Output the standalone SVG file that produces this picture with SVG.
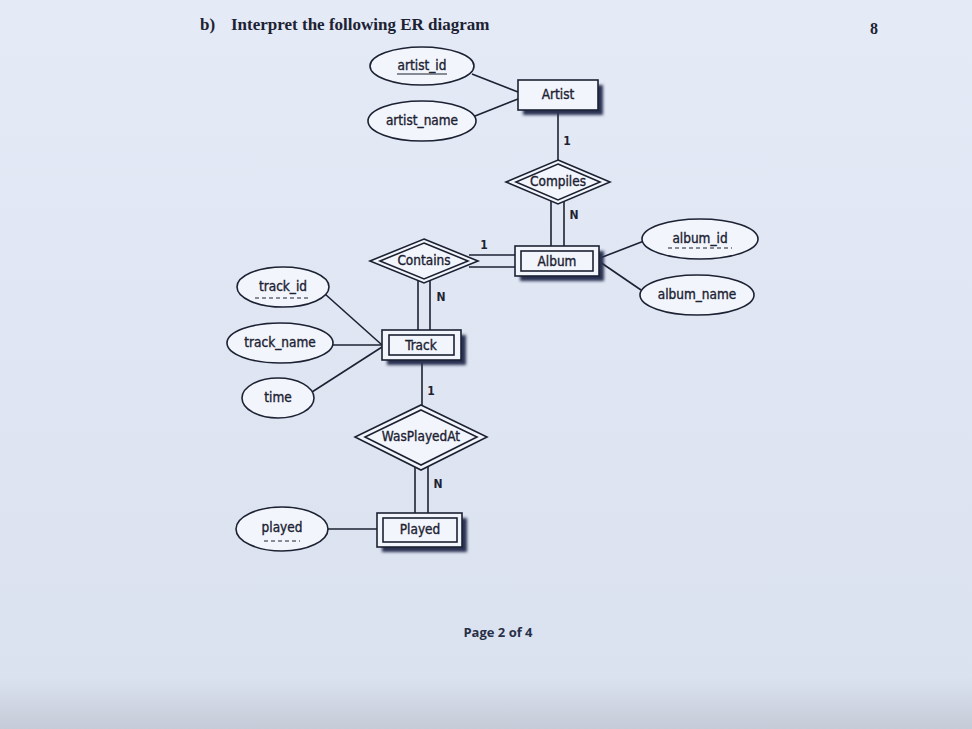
<svg xmlns="http://www.w3.org/2000/svg" width="972" height="729" viewBox="0 0 972 729">
<defs>
<linearGradient id="bg" x1="0" y1="0" x2="0" y2="1">
<stop offset="0" stop-color="#e4eaf6"/>
<stop offset="0.93" stop-color="#dbe2ef"/>
<stop offset="1" stop-color="#c5ccd8"/>
</linearGradient>
<filter id="blur" x="-20%" y="-20%" width="140%" height="140%"><feGaussianBlur stdDeviation="1.5"/></filter>
<style>
.s{fill:none;stroke:#1c2233;stroke-width:1.6}
.f{fill:#f2f5fb;stroke:#1c2233;stroke-width:1.6}
.sh{fill:#2a3352;filter:url(#blur)}
.t{font-family:"DejaVu Sans Condensed","Liberation Sans Narrow","Liberation Sans",sans-serif;font-size:13.5px;fill:#1c2233;stroke:#1c2233;stroke-width:0.35;text-anchor:middle}
.c{font-family:"DejaVu Sans Condensed","Liberation Sans",sans-serif;font-size:12px;font-weight:bold;fill:#1c2233;text-anchor:middle}
.d{stroke:#1c2233;stroke-width:1.2;stroke-dasharray:4 3}
</style>
</defs>
<rect width="972" height="729" fill="url(#bg)"/>
<text x="200" y="30" font-family="Liberation Serif,serif" font-size="17" font-weight="bold" fill="#1c2233">b)</text>
<text x="231" y="30" font-family="Liberation Serif,serif" font-size="17" font-weight="bold" fill="#1c2233">Interpret the following ER diagram</text>
<text x="870" y="34" font-family="Liberation Serif,serif" font-size="16" font-weight="bold" fill="#1c2233">8</text>

<g id="connectors">
<line class="s" x1="472" y1="74" x2="518" y2="92"/>
<line class="s" x1="475" y1="116" x2="518" y2="99"/>
<line class="s" x1="558" y1="110" x2="558" y2="160"/>
<line class="s" x1="551" y1="201" x2="551" y2="247"/>
<line class="s" x1="564" y1="198" x2="564" y2="247"/>
<line class="s" x1="469" y1="255" x2="515" y2="255"/>
<line class="s" x1="469" y1="267" x2="515" y2="267"/>
<line class="s" x1="418" y1="280" x2="418" y2="331"/>
<line class="s" x1="430" y1="280" x2="430" y2="331"/>
<line class="s" x1="600" y1="258" x2="644" y2="241"/>
<line class="s" x1="600" y1="262" x2="641" y2="290"/>
<line class="s" x1="325" y1="294" x2="382" y2="345"/>
<line class="s" x1="333" y1="345" x2="382" y2="345"/>
<line class="s" x1="312" y1="392" x2="382" y2="347"/>
<line class="s" x1="422" y1="360" x2="422" y2="405"/>
<line class="s" x1="415" y1="466" x2="415" y2="513"/>
<line class="s" x1="428" y1="466" x2="428" y2="513"/>
<line class="s" x1="328" y1="529" x2="377" y2="529"/>
<text class="c" x="567" y="145">1</text>
<text class="c" x="574" y="219">N</text>
<text class="c" x="484" y="249">1</text>
<text class="c" x="441" y="301">N</text>
<text class="c" x="431" y="395">1</text>
<text class="c" x="438" y="488">N</text>
</g>

<g id="artist_id">
<ellipse class="f" cx="422" cy="66" rx="52" ry="19"/>
<text class="t" x="422" y="70">artist_id</text>
<line x1="397" y1="74" x2="447" y2="74" stroke="#1c2233" stroke-width="1.2"/>
</g>
<g id="artist_name">
<ellipse class="f" cx="422" cy="121" rx="54" ry="20"/>
<text class="t" x="422" y="125">artist_name</text>
</g>
<g id="Artist">
<rect class="sh" x="523" y="85" width="80" height="30"/>
<rect class="f" x="518" y="80" width="80" height="30"/>
<text class="t" x="558" y="99">Artist</text>
</g>
<g id="Compiles">
<polygon class="f" points="558,160 610,182 558,204 506,182"/>
<polygon class="s" points="558,164 600,182 558,200 516,182"/>
<text class="t" x="558" y="186">Compiles</text>
</g>
<g id="Album">
<rect class="sh" x="520" y="251" width="84" height="30"/>
<rect class="f" x="515" y="246" width="84" height="30"/>
<rect class="s" x="521" y="251" width="72" height="20"/>
<text class="t" x="557" y="266">Album</text>
</g>
<g id="album_id">
<ellipse class="f" cx="700" cy="239" rx="58" ry="20"/>
<text class="t" x="700" y="243">album_id</text>
<line class="d" x1="668" y1="248" x2="732" y2="248"/>
</g>
<g id="album_name">
<ellipse class="f" cx="697" cy="295" rx="57" ry="20"/>
<text class="t" x="697" y="299">album_name</text>
</g>
<g id="Contains">
<polygon class="f" points="424,239 478,261 424,283 370,261"/>
<polygon class="s" points="424,243 468,261 424,279 380,261"/>
<text class="t" x="424" y="265">Contains</text>
</g>
<g id="Track">
<rect class="sh" x="387" y="335" width="79" height="30"/>
<rect class="f" x="382" y="330" width="79" height="30"/>
<rect class="s" x="389" y="335" width="65" height="20"/>
<text class="t" x="421" y="350">Track</text>
</g>
<g id="track_id">
<ellipse class="f" cx="283" cy="287" rx="46" ry="20"/>
<text class="t" x="283" y="291">track_id</text>
<line class="d" x1="255" y1="298" x2="311" y2="298"/>
</g>
<g id="track_name">
<ellipse class="f" cx="280" cy="343" rx="53" ry="20"/>
<text class="t" x="280" y="347">track_name</text>
</g>
<g id="time">
<ellipse class="f" cx="278" cy="398" rx="36" ry="20"/>
<text class="t" x="278" y="402">time</text>
</g>
<g id="WasPlayedAt">
<polygon class="f" points="421,405 487,437 421,470 355,437"/>
<polygon class="s" points="421,410 477,437 421,465 365,437"/>
<text class="t" x="421" y="441">WasPlayedAt</text>
</g>
<g id="Played">
<rect class="sh" x="382" y="518" width="85" height="34"/>
<rect class="f" x="377" y="513" width="85" height="34"/>
<rect class="s" x="383" y="518" width="74" height="24"/>
<text class="t" x="420" y="534">Played</text>
</g>
<g id="played">
<ellipse class="f" cx="282" cy="529" rx="46" ry="22"/>
<text class="t" x="282" y="532">played</text>
<line class="d" x1="264" y1="541" x2="300" y2="541"/>
</g>
<text x="498" y="637" font-family="'Open Sans','DejaVu Sans',sans-serif" font-size="13" font-weight="bold" fill="#283049" text-anchor="middle">Page 2 of 4</text>
</svg>
